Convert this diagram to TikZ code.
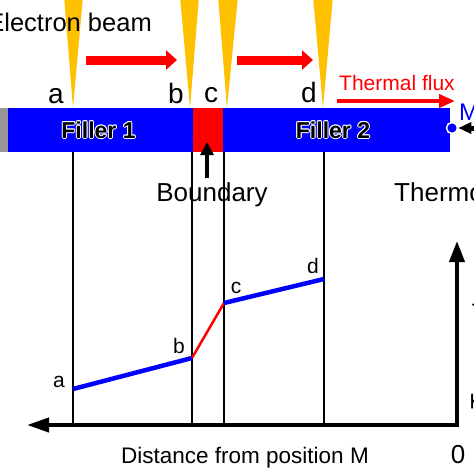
\documentclass[tikz,border=0pt]{standalone}
\usepackage{fontspec}
\setmainfont{Liberation Sans}
\usetikzlibrary{arrows.meta}
\definecolor{beamc}{RGB}{255,192,0}
\definecolor{fblue}{RGB}{0,0,255}
\definecolor{fred}{RGB}{255,0,0}
\definecolor{fgrey}{RGB}{150,150,150}
\newcommand\fsz[1]{\fontsize{#1}{#1}\selectfont}
\newcommand\hl[2]{\rlap{\hspace*{#1}\raisebox{#2}{\textcolor{white}{\thehalo}}}}
\newcommand\thehalo{}
\newcommand\halotext[1]{\renewcommand\thehalo{#1}\leavevmode
  \hl{-1pt}{0pt}\hl{1pt}{0pt}\hl{0pt}{1pt}\hl{0pt}{-1pt}%
  \hl{-0.7pt}{0.7pt}\hl{0.7pt}{0.7pt}\hl{-0.7pt}{-0.7pt}\hl{0.7pt}{-0.7pt}#1}
\tikzset{
  beamshape/.style={fill=beamc, draw=none},
  vline/.style={line width=2pt, black},
  axisline/.style={line width=4pt, black, line join=miter},
  redarrow/.style={line width=9pt, fred, -{Triangle[length=11pt,width=19pt]}},
  fluxarrow/.style={line width=4.5pt, fred, -{Triangle[length=16pt,width=13pt]}},
  toplabel/.style={anchor=base, inner sep=0pt, font=\fsz{28}},
  graphlabel/.style={anchor=base, inner sep=0pt, font=\fsz{21}},
  bigtext/.style={inner sep=0pt, font=\fsz{26}},
  fillerlabel/.style={anchor=base, inner sep=0pt, font=\fsz{23}\bfseries},
}
\begin{document}
\begin{tikzpicture}[x=1pt,y=-1pt]
\useasboundingbox (0,0) rectangle (474,474);
\clip (0,0) rectangle (474,474);

% bar
\fill[fgrey] (0,108) rectangle (8,152);
\fill[fblue] (8,108) rectangle (450,152);
\fill[fred] (193,108) rectangle (223,152);

% beams
\fill[beamshape] (64,-4) -- (83,-4) -- (73,108) -- cycle;
\fill[beamshape] (180,-4) -- (199,-4) -- (190,108) -- cycle;
\fill[beamshape] (218,-4) -- (238,-4) -- (227,108) -- cycle;
\fill[beamshape] (313,-4) -- (333,-4) -- (323,108) -- cycle;

% texts at top
\node[anchor=base east, inner sep=0pt, font=\fsz{25.5}] (eb) at (152,31) {Electron beam};
\node[toplabel] (la) at (56,103) {a};
\node[toplabel] (lb) at (176,103) {b};
\node[toplabel] (lc) at (211,102) {c};
\node[toplabel] (ld) at (309,102) {d};
\node[anchor=base west, inner sep=0pt, font=\fsz{21}, text=fred] (tf) at (339,90) {Thermal flux};
\node[anchor=base west, inner sep=0pt, font=\fsz{24}, text=fblue] (mm) at (459,120) {M};

% red arrows
\coordinate (r1s) at (86,60); \coordinate (r1e) at (177,60);
\coordinate (r2s) at (237,60); \coordinate (r2e) at (313,60);
\coordinate (r3s) at (337,101); \coordinate (r3e) at (455,101);
\draw[redarrow] (r1s) -- (r1e);
\draw[redarrow] (r2s) -- (r2e);
\draw[fluxarrow] (r3s) -- (r3e);

% filler labels
\node[fillerlabel] (f1) at (98.5,138) {\halotext{Filler 1}};
\node[fillerlabel] (f2) at (333,138) {\halotext{Filler 2}};

% position M dot and thermocouple arrow
\node[circle, fill=fblue, draw=white, line width=1.5pt, minimum size=11pt, inner sep=0pt] (dot) at (452,128) {};
\coordinate (tcs) at (495,128);
\draw[line width=5pt, -{Triangle[length=13pt,width=11pt]}] (tcs) -- (dot.east);

% boundary
\node[bigtext, anchor=base] (bd) at (212,201) {Boundary};
\coordinate (bas) at (207,178); \coordinate (bae) at (207,142);
\draw[line width=4pt, -{Triangle[length=13pt,width=13pt]}] (bas) -- (bae);
\node[bigtext, anchor=base west] (th) at (394,201) {Thermocouple};

% vertical lines
\foreach \n/\x in {a/73, b/192, c/224, d/324} {
  \coordinate (t\n) at (\x,152);
  \coordinate (g\n) at (\x,425);
  \draw[vline] (t\n) -- (g\n);
}

% axes
\coordinate (orig) at (457,425);
\coordinate (xtip) at (27,425);
\coordinate (ytip) at (457,241);
\draw[axisline, {Triangle[length=22pt,width=14pt]}-{Triangle[length=21pt,width=15pt]}] (xtip) -- (orig) -- (ytip);

% graph
\coordinate (pa) at (73,389);
\coordinate (pb) at (192,358);
\coordinate (pc) at (224,303);
\coordinate (pd) at (324,279);
\draw[line width=4.5pt, fblue] (pa) -- (pb);
\draw[line width=2.5pt, fred] (pb) -- (pc);
\draw[line width=4.5pt, fblue] (pc) -- (pd);
\node[graphlabel] (ga) at (59,387) {a};
\node[graphlabel] (gb) at (179,353) {b};
\node[graphlabel] (gc) at (236,293) {c};
\node[graphlabel] (gd) at (313,273) {d};

% axis labels
\node[anchor=base, inner sep=0pt, font=\fsz{22.5}] (xl) at (245,463) {Distance from position M};
\node[anchor=base, inner sep=0pt, font=\fsz{26}] (zero) at (458,463) {0};
\node[anchor=base west, inner sep=0pt, rotate=90, font=\fsz{26}] (yl) at (489,410) {Temperature};
\end{tikzpicture}
\end{document}
